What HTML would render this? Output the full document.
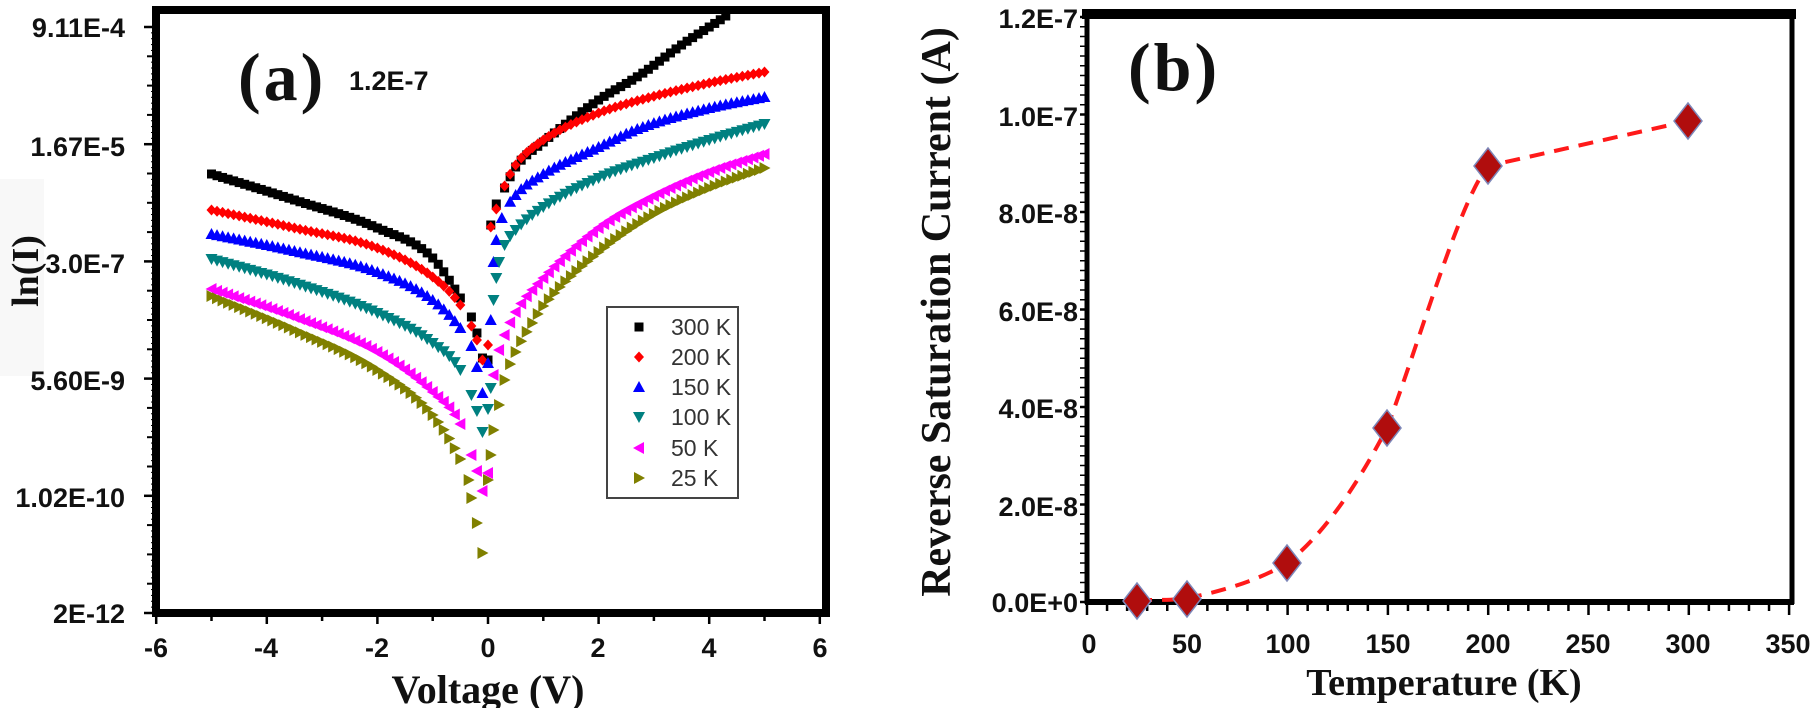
<!DOCTYPE html>
<html><head><meta charset="utf-8">
<style>
html,body{margin:0;padding:0;background:#fff;}
svg{display:block;}
.tl{font-family:"Liberation Sans",sans-serif;font-weight:bold;font-size:27px;fill:#111;}
.ser{font-family:"Liberation Serif",serif;font-weight:bold;fill:#111;}
.lg{font-family:"Liberation Sans",sans-serif;font-size:23px;fill:#333;}
</style></head>
<body>
<svg id="s" width="1820" height="708" viewBox="0 0 1820 708" xmlns="http://www.w3.org/2000/svg">
<rect width="1820" height="708" fill="#fff"/>
<rect x="0" y="179" width="44" height="197" fill="#f8f8f8"/>
<g id="left"></g>
<g id="right"></g>
<rect x="156" y="10" width="670" height="603" fill="none" stroke="#000" stroke-width="8"/>
<g class="tl" text-anchor="end">
<text x="125" y="37">9.11E-4</text>
<text x="125" y="156">1.67E-5</text>
<text x="125" y="273">3.0E-7</text>
<text x="125" y="390">5.60E-9</text>
<text x="125" y="507">1.02E-10</text>
<text x="125" y="623">2E-12</text>
</g>
<g class="tl" text-anchor="middle">
<text x="156" y="657">-6</text><text x="266" y="657">-4</text><text x="377" y="657">-2</text>
<text x="488" y="657">0</text><text x="598" y="657">2</text><text x="709" y="657">4</text><text x="820" y="657">6</text>
</g>
<text class="ser" x="488" y="703" font-size="40" text-anchor="middle">Voltage (V)</text>
<text class="ser" transform="translate(38,271) rotate(-90)" font-size="38" text-anchor="middle">ln(I)</text>
<text class="ser" x="238" y="100" font-size="68" letter-spacing="3">(a)</text>
<text class="tl" x="349" y="90" font-size="22">1.2E-7</text>
<rect x="607" y="307" width="131" height="191" fill="#fff" stroke="#444" stroke-width="2"/>
<g id="leg"></g>
<g class="lg">
<text x="671" y="335">300 K</text><text x="671" y="365">200 K</text><text x="671" y="395">150 K</text>
<text x="671" y="425">100 K</text><text x="671" y="456">50 K</text><text x="671" y="486">25 K</text>
</g>
<line x1="1082" y1="14" x2="1796" y2="14" stroke="#000" stroke-width="10"/>
<line x1="1792" y1="12" x2="1792" y2="604" stroke="#000" stroke-width="5"/>
<line x1="1087" y1="12" x2="1087" y2="604" stroke="#000" stroke-width="5"/>
<line x1="1085" y1="602" x2="1794" y2="602" stroke="#000" stroke-width="6"/>
<g class="tl" text-anchor="end" font-size="25">
<text x="1078" y="28">1.2E-7</text>
<text x="1078" y="126">1.0E-7</text>
<text x="1078" y="223">8.0E-8</text>
<text x="1078" y="321">6.0E-8</text>
<text x="1078" y="418">4.0E-8</text>
<text x="1078" y="516">2.0E-8</text>
<text x="1078" y="612">0.0E+0</text>
</g>
<g class="tl" text-anchor="middle" font-size="25">
<text x="1089" y="653">0</text><text x="1187" y="653">50</text><text x="1288" y="653">100</text>
<text x="1388" y="653">150</text><text x="1488" y="653">200</text><text x="1588" y="653">250</text>
<text x="1688" y="653">300</text><text x="1788" y="653">350</text>
</g>
<text class="ser" x="1444" y="695" font-size="38" text-anchor="middle">Temperature (K)</text>
<text class="ser" transform="translate(950,312) rotate(-90)" font-size="42" text-anchor="middle">Reverse Saturation Current (A)</text>
<text class="ser" x="1128" y="90" font-size="68" letter-spacing="3">(b)</text>
<path d="M1137,600 C1160,600 1180,600 1187,598 C1220,592 1260,580 1287,563 C1330,530 1365,470 1387,428 C1420,340 1460,200 1488,166 L1688,121" fill="none" stroke="#ff1a1a" stroke-width="4" stroke-dasharray="15,10"/>
<g id="dia"></g>
</svg>
<script>
var NS="http://www.w3.org/2000/svg";
function el(t,a,p){var e=document.createElementNS(NS,t);for(var k in a)e.setAttribute(k,a[k]);p.appendChild(e);return e;}
function marker(shape,color,cx,cy,p){
  if(shape=="sq") el("rect",{x:cx-4.5,y:cy-4.5,width:9,height:9,fill:color},p);
  else if(shape=="di") el("polygon",{points:(cx)+","+(cy-5.5)+" "+(cx+5)+","+cy+" "+cx+","+(cy+5.5)+" "+(cx-5)+","+cy,fill:color},p);
  else if(shape=="up") el("polygon",{points:cx+","+(cy-6)+" "+(cx+6)+","+(cy+5)+" "+(cx-6)+","+(cy+5),fill:color},p);
  else if(shape=="dn") el("polygon",{points:cx+","+(cy+6)+" "+(cx+6)+","+(cy-5)+" "+(cx-6)+","+(cy-5),fill:color},p);
  else if(shape=="lf") el("polygon",{points:(cx-6)+","+cy+" "+(cx+5)+","+(cy-6)+" "+(cx+5)+","+(cy+6),fill:color},p);
  else if(shape=="rt") el("polygon",{points:(cx+6)+","+cy+" "+(cx-5)+","+(cy-6)+" "+(cx-5)+","+(cy+6),fill:color},p);
}
// monotone cubic interpolation
function mono(pts){
  var n=pts.length,xs=pts.map(function(p){return p[0]}),ys=pts.map(function(p){return p[1]});
  var d=[],m=[];
  for(var i=0;i<n-1;i++)d.push((ys[i+1]-ys[i])/(xs[i+1]-xs[i]));
  m[0]=d[0];m[n-1]=d[n-2];
  for(var i=1;i<n-1;i++){m[i]=(d[i-1]*d[i]<=0)?0:(d[i-1]+d[i])/2;}
  for(var i=0;i<n-1;i++){if(d[i]==0){m[i]=m[i+1]=0;continue;}var a=m[i]/d[i],b=m[i+1]/d[i],s=a*a+b*b;if(s>9){var t=3/Math.sqrt(s);m[i]=t*a*d[i];m[i+1]=t*b*d[i];}}
  return function(v){
    var i=0;while(i<n-2&&v>xs[i+1])i++;
    var h=xs[i+1]-xs[i],t=(v-xs[i])/h,t2=t*t,t3=t2*t;
    return (2*t3-3*t2+1)*ys[i]+(t3-2*t2+t)*h*m[i]+(-2*t3+3*t2)*ys[i+1]+(t3-t2)*h*m[i+1];
  };
}
var X=function(v){return 488+55.3*v;};
var series=[
 ["sq","#000",[[-5,174],[-3.5,200],[-2,228],[-1,258],[-0.5,298],[-0.3,317],[-0.2,333],[-0.1,358]],[[0,360],[0.05,225],[0.15,204],[0.3,188],[0.5,167],[1,142],[2,100],[2.75,75],[3.5,45],[4.4,12],[5,-15]]],
 ["di","#ff0000",[[-5,210],[-3.5,228],[-2,248],[-1,277],[-0.5,305],[-0.3,326],[-0.2,340],[-0.1,360]],[[0,345],[0.05,227],[0.15,209],[0.3,186],[0.5,165],[1,140],[2,113],[2.75,100],[4,83],[5,72]]],
 ["up","#0000ff",[[-5,234],[-3.5,251],[-2,272],[-1,300],[-0.5,328],[-0.3,346],[-0.2,367],[-0.1,393]],[[0,363],[0.05,320],[0.1,262],[0.15,240],[0.25,218],[0.5,195],[1,174],[2,147],[2.75,128],[4,108],[5,97]]],
 ["dn","#008080",[[-5,259],[-3.5,283],[-2,313],[-1,343],[-0.5,370],[-0.3,395],[-0.2,411],[-0.1,432]],[[0,409],[0.05,388],[0.1,300],[0.15,278],[0.2,262],[0.3,245],[0.5,230],[1,207],[2,178],[3,158],[4,140],[5,124]]],
 ["lf","#ff00ff",[[-5,289],[-3.5,317],[-2,352],[-1,392],[-0.5,424],[-0.3,455],[-0.2,471],[-0.1,491]],[[0,473],[0.1,375],[0.2,350],[0.3,335],[0.5,312],[1,278],[2,228],[3,196],[4,172],[5,154]]],
 ["rt","#808000",[[-5,296],[-3.5,330],[-2,370],[-1,415],[-0.5,459],[-0.35,480],[-0.3,498],[-0.2,523],[-0.1,553]],[[0,480],[0.05,455],[0.1,430],[0.2,405],[0.3,380],[0.5,352],[0.8,323],[1,306],[2,252],[3,214],[4,188],[5,168]]]
];
var g=document.getElementById("left");
var legY=[327,357,387,417,448,478];
series.forEach(function(s,i){
  var L=s[2],R=s[3],fL=mono(L),fR=mono(R);
  for(var v=-5;v<=-0.45;v+=0.1){marker(s[0],s[1],X(v),fL(v),g);}
  L.filter(function(p){return p[0]>-0.45;}).forEach(function(p){marker(s[0],s[1],X(p[0]),p[1],g);});
  R.forEach(function(p){if(p[0]<0.5&&p[1]>10)marker(s[0],s[1],X(p[0]),p[1],g);});
  for(var v=0.4;v<=5.0001;v+=0.1){var y=fR(v);if(y>12)marker(s[0],s[1],X(v),y,g);}
  marker(s[0],s[1],639,legY[i],document.getElementById("leg"));
});
for(var k=0;k<=5;k++){var y=27+117.2*k;el("line",{x1:144,y1:y,x2:156,y2:y,stroke:"#000","stroke-width":2.5},g);
  if(k<5)for(var m=1;m<4;m++){var yy=y+29.3*m;el("line",{x1:147,y1:yy,x2:156,y2:yy,stroke:"#000","stroke-width":2},g);}
  if(k<5)for(var m=1;m<20;m++){var yy=y+5.86*m;el("line",{x1:151,y1:yy,x2:156,y2:yy,stroke:"#000","stroke-width":1},g);}
}
for(var v=-6;v<=6;v++){el("line",{x1:X(v),y1:613,x2:X(v),y2:(v%2==0?624:621),stroke:"#000","stroke-width":2.5},g);}
var r=document.getElementById("right");
for(var t=0;t<=350;t+=10){var x=1087+2.006*t;el("line",{x1:x,y1:602,x2:x,y2:(t%50==0?615:611),stroke:"#000","stroke-width":2.5},r);}
for(var k=0;k<=60;k++){var y=602-9.75*k;el("line",{x1:1080,y1:y,x2:1087,y2:y,stroke:"#000","stroke-width":(k%10==0?2.5:1.5)},r);}
var d=document.getElementById("dia");
[[1137,601],[1187,599],[1287,563],[1387,428],[1488,166],[1688,121]].forEach(function(p){
  el("polygon",{points:p[0]+","+(p[1]-18)+" "+(p[0]+14)+","+p[1]+" "+p[0]+","+(p[1]+18)+" "+(p[0]-14)+","+p[1],fill:"#b00d0d",stroke:"#7d86b8","stroke-width":1.5},d);
});
</script>
</body></html>
